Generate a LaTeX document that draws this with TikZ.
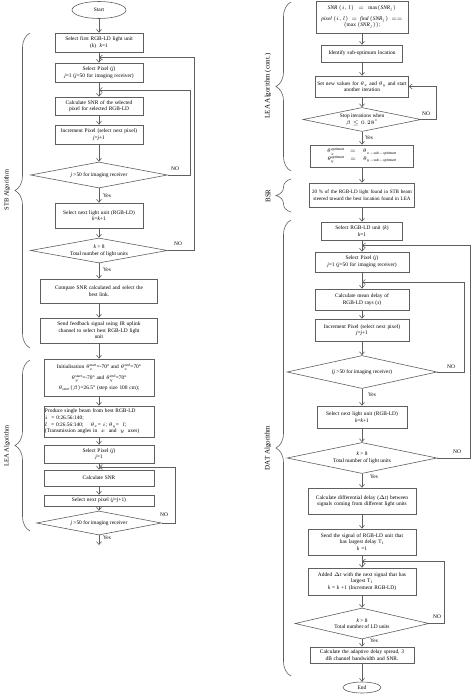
\documentclass[tikz,border=0pt]{standalone}
\usepackage{fix-cm}
\usepackage{amsmath}
\usepackage{fontspec}
\setmainfont{Liberation Serif}
\usetikzlibrary{shapes.geometric,arrows.meta,decorations.pathreplacing}
\definecolor{ln}{RGB}{95,95,95}
\begin{document}
\begin{tikzpicture}[x=1pt,y=-1pt,
 every node/.style={font=\fontsize{5.4}{6.6}\selectfont},
 box/.style={draw=ln, line width=0.6pt, rectangle, inner sep=1pt, align=center},
 dia/.style={draw=ln, line width=0.6pt, diamond, inner sep=0pt},
 dlab/.style={align=center, inner sep=0pt},
 term/.style={draw=ln, line width=0.6pt, ellipse, inner sep=0pt},
 arr/.style={draw=ln, line width=0.6pt, -{Straight Barb[length=3pt,width=5pt]}},
 lab/.style={font=\fontsize{5.4}{6.6}\selectfont},
 brc/.style={draw=ln, line width=0.6pt, decorate, decoration={brace, amplitude=15pt}},
 sidel/.style={rotate=90, font=\fontsize{6.4}{8}\selectfont},
 sider/.style={rotate=90, font=\fontsize{7}{8}\selectfont}]
\useasboundingbox (0,0) rectangle (474,694);

% ---------------- left column: STB ----------------
\node[term, minimum width=54pt, minimum height=17pt] (start) at (99,10) {Start};
\node[box, text width=86pt, minimum height=19pt] (b1) at (99,42.5) {Select first RGB-LD light unit\\(\textit{k})\ \ \textit{k}=1};
\node[box, text width=86pt, minimum height=19pt] (b2) at (99,72.5) {Select Pixel (\textit{j})\\\textit{j}=1 (\textit{j}=50 for imaging receiver)};
\node[box, text width=86pt, minimum height=18pt] (b3) at (99,106) {Calculate SNR of the selected\\pixel for selected RGB-LD};
\node[box, text width=86pt, minimum height=19pt] (b4) at (99,134.5) {Increment Pixel (select next pixel)\\\textit{j}=\textit{j}+1};
\node[dia, minimum width=137pt, minimum height=26pt, label={[dlab]center:\textit{j} >50 for imaging receiver}] (d1) at (99,175) {};
\node[box, text width=86pt, minimum height=25pt] (b5) at (99,215.5) {Select next light unit (RGB-LD)\\\textit{k}=\textit{k}+1};
\node[dia, minimum width=137pt, minimum height=25pt, label={[dlab]center:\textit{k} > 8\\Total number of light units}] (d2) at (99,250.5) {};
\node[box, text width=115pt, minimum height=24pt] (b6) at (99,291) {Compare SNR calculated and select the\\best link.};
\node[box, text width=115pt, minimum height=25pt] (b7) at (99,330.5) {Send feedback signal using IR uplink\\channel to select best RGB-LD light\\unit};

% ---------------- left column: LEA ----------------
\node[box, text width=108pt, minimum height=37pt] (b8) at (99,377.5) {Initialisation $\theta_x^{\mathrm{start}}$=-70° and $\theta_x^{\mathrm{end}}$=70°\\[2.5pt]$\theta_y^{\mathrm{start}}$=-70° and $\theta_y^{\mathrm{end}}$=70°\\[2.5pt]$\theta_{\mathit{steer}}(\beta)$=26.5° (step size 100 cm);};
\node[box, text width=108pt, minimum height=31pt, align=left] (b9) at (99,421.5) {Produce single beam from best RGB-LD\\$i$\ \ = 0:26.56:140;\\$l$\ \ = 0:26.56:140;\quad\ $\theta_x$= $i$; $\theta_y$= \ $l$;\\(Transmission angles in \ $x$ \ and \ $y$ \ axes)};
\node[box, text width=108pt, minimum height=18pt] (b10) at (99,454) {Select Pixel (\textit{j})\\\textit{j}=1};
\node[box, text width=108pt, minimum height=16pt] (b11) at (99,478) {Calculate SNR};
\node[box, text width=108pt, minimum height=11pt] (b12) at (99,500.5) {Select next pixel (\textit{j}=\textit{j}+1)};
\node[dia, minimum width=125pt, minimum height=24pt, label={[dlab]center:\textit{j} >50 for imaging receiver}] (d3) at (99,523) {};
\coordinate (lend) at (99,545);

% ---------------- right column ----------------
\node[box, text width=90pt, minimum height=32pt] (r1) at (362,17) {$\mathit{SNR}\,(i,l) = \max(\mathit{SNR}_j)$\\[4pt]$\mathit{pixel}\,(i,l) = \mathit{find}\,(\mathit{SNR}_j) ==$\\$(\max\,(\mathit{SNR}_j))$;};
\node[box, text width=79pt, minimum height=17pt] (r2) at (362,53.5) {Identify sub-optimum location};
\node[box, text width=91pt, minimum height=21pt] (r3) at (362,86.5) {Set new values for $\theta_x$ and $\theta_y$ and start\\another iteration};
\node[dia, minimum width=118pt, minimum height=24pt, label={[dlab]center:Stop iterations when\\$\beta \le 0.28^\circ$}] (rd1) at (362,119.5) {};
\node[box, text width=101pt, minimum height=22pt] (r4) at (362,156) {$\theta_x^{\mathit{optimum}} =\ \theta_{x-\mathit{sub-optimum}}$\\$\theta_y^{\mathit{optimum}} =\ \theta_{y-\mathit{sub-optimum}}$};
\node[box, text width=103pt, minimum height=24pt, font=\fontsize{5.1}{6.6}\selectfont] (r5) at (362,195) {20 \% of the RGB-LD light found in STB beam\\steered toward the best location found in LEA};
\node[box, text width=79pt, minimum height=18pt] (r6) at (362,231) {Select RGB-LD unit (\textit{k})\\\textit{k}=1};
\node[box, text width=92pt, minimum height=20pt] (r7) at (362,262) {Select Pixel (\textit{j})\\\textit{j}=1 (\textit{j}=50 for imaging receiver)};
\node[box, text width=92pt, minimum height=21pt] (r8) at (362,299.5) {Calculate mean delay of\\RGB-LD rays (\textit{s})};
\node[box, text width=92pt, minimum height=22pt] (r9) at (362,330) {Increment Pixel (select next pixel)\\\textit{j}=\textit{j}+1};
\node[dia, minimum width=150pt, minimum height=33pt, label={[dlab]center:(\textit{j} >50 for imaging receiver)}] (rd2) at (362,372) {};
\node[box, text width=88pt, minimum height=22pt] (r10) at (362,417) {Select next light unit (RGB-LD)\\\textit{k}=\textit{k}+1};
\node[dia, minimum width=150pt, minimum height=31pt, label={[dlab]center:\textit{k} > 8\\Total number of light units}] (rd3) at (362,458) {};
\node[box, text width=106pt, minimum height=26pt] (r11) at (362,501) {Calculate differential delay ($\Delta$t) between\\signals coming from different light units};
\node[box, text width=106pt, minimum height=26pt] (r12) at (362,542) {Send the signal of RGB-LD unit that\\has largest delay T\textsubscript{1}\\\textit{k} =1};
\node[box, text width=106pt, minimum height=27pt] (r13) at (362,581.5) {Added $\Delta$t with the next signal that has\\largest T\textsubscript{1}\\\textit{k} = \textit{k} +1 (Increment RGB-LD)};
\node[dia, minimum width=134pt, minimum height=31pt, label={[dlab]center:\textit{k} > 8\\Total number of LD units}] (rd4) at (362,623.5) {};
\node[box, text width=102pt, minimum height=16pt] (r14) at (362,655) {Calculate the adaptive delay spread, 3\\dB channel bandwidth and SNR.};
\node[term, minimum width=38pt, minimum height=11pt] (end) at (362,687.5) {End};

% ---------------- main arrows ----------------
\foreach \a/\b in {start/b1,b1/b2,b2/b3,b3/b4,b4/d1,d1/b5,b5/d2,d2/b6,b6/b7,b7/b8,b8/b9,b9/b10,b10/b11,b11/b12,b12/d3,
 r1/r2,r2/r3,r3/rd1,rd1/r4,r4/r5,r5/r6,r6/r7,r7/r8,r8/r9,r9/rd2,rd2/r10,r10/rd3,rd3/r11,r11/r12,r12/r13,r13/rd4,rd4/r14,r14/end}
  \draw[arr] (\a) -- (\b);
\draw[arr] (d3) -- (lend);

% ---------------- loops ----------------
\coordinate (m1) at (99,57.5);
\coordinate (m2) at (99,90);
\coordinate (m3) at (99,467);
\coordinate (m4) at (362,245.5);
\coordinate (m5) at (362,282);
\coordinate (m6) at (362,561.5);
\draw[arr] (d2.east) -- ++(26.5,0) |- (m1);
\draw[arr] (d1.east) -- ++(22.5,0) |- (m2);
\draw[arr] (d3.east) -- ++(13.5,0) |- (m3);
\draw[arr] (rd1.east) -- ++(15,0) |- (r3.east);
\draw[arr] (rd2.east) -- ++(27,0) |- (m5);
\draw[arr] (rd3.east) -- ++(33,0) |- (m4);
\draw[arr] (rd4.east) -- ++(15,0) |- (m6);

% ---------------- labels ----------------
\node[lab] (no1) at (175,169) {NO};
\node[lab] (no2) at (178,244) {NO};
\node[lab] (no3) at (164,515) {NO};
\node[lab] (no4) at (426,114) {NO};
\node[lab] (no5) at (451,367) {NO};
\node[lab] (no6) at (457,452) {NO};
\node[lab] (no7) at (437,617) {NO};
\node[lab] (y1) at (107,196) {Yes};
\node[lab] (y2) at (107,270) {Yes};
\node[lab] (y3) at (107,538) {Yes};
\node[lab] (y4) at (369,138) {Yes};
\node[lab] (y5) at (372,395) {Yes};
\node[lab] (y6) at (374,477) {Yes};
\node[lab] (y7) at (374,641) {Yes};

% ---------------- braces ----------------
\draw[brc] (30,348) -- (30,33);
\node[sidel] (stb) at (7,190) {STB Algorithm};
\draw[brc] (30,531) -- (30,360);
\node[sidel] (lea) at (7,446) {LEA Algorithm};
\draw[brc] (291,171) -- (291,2);
\node[sider] (leac) at (268,86) {LEA Algorithm (cont.)};
\draw[brc] (291,212) -- (291,179);
\node[sider] (bsr) at (268,196) {BSR};
\draw[brc] (291,676) -- (291,220);
\node[sider] (dat) at (268,448) {DAT Algorithm};
\end{tikzpicture}
\end{document}
